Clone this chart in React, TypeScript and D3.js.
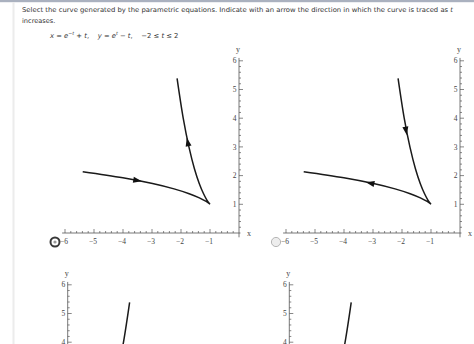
import React from "react";
import * as d3 from "d3";

// Curve points (right-half form, x positive)
const curveXPos = [5.389, 4.005, 2.982, 2.24, 1.718, 1.367, 1.149, 1.034, 1.005, 1, 1.005, 1.029, 1.107, 1.222, 1.368, 1.537, 1.723, 1.924, 2.135];
const curveXNeg = [-5.389, -4.005, -2.982, -2.24, -1.718, -1.367, -1.149, -1.034, -1.005, -1, -1.005, -1.029, -1.107, -1.222, -1.368, -1.537, -1.723, -1.924, -2.135];
const curveY = [2.135, 1.924, 1.723, 1.537, 1.368, 1.222, 1.107, 1.029, 1.005, 1, 1.005, 1.034, 1.149, 1.367, 1.718, 2.24, 2.982, 4.005, 5.389];

// arrow markers: position on curve + direction (+1 along increasing t, -1 reversed)
const arrowsA = [
  { x: -3.5, y: 1.83, dir: 1 },
  { x: -1.77, y: 3.17, dir: 1 },
];
const arrowsB = [
  { x: -3.1, y: 1.74, dir: -1 },
  { x: -1.86, y: 3.56, dir: -1 },
];

const xTickLabelsNeg = ["−6", "−5", "−4", "−3", "−2", "−1"];
const xTickValuesNeg = [-6, -5, -4, -3, -2, -1];
const yTickLabels = ["1", "2", "3", "4", "5", "6"];
const yTickValues = [1, 2, 3, 4, 5, 6];

const UX = 29;
const UY = 28.7;

type PanelProps = {
  ox: number;
  oy: number;
  side: "neg" | "pos";
  arrows: { x: number; y: number; dir: number }[];
  radio?: "dark" | "light";
  radioX?: number;
};

function Arrow({ px, py, ang }: { px: number; py: number; ang: number }) {
  const L = 8.5;
  const W = 3;
  const pts = [
    [L / 2, 0],
    [-L / 2, -W],
    [-L / 2, W],
  ];
  const c = Math.cos(ang);
  const s = Math.sin(ang);
  const d = pts.map(([a, b]) => `${px + a * c - b * s},${py + a * s + b * c}`).join(" ");
  return <polygon points={d} fill="#111" />;
}

function Panel({ ox, oy, side, arrows, radio, radioX }: PanelProps) {
  const xs = side === "neg" ? curveXNeg : curveXPos;
  const x = side === "neg"
    ? d3.scaleLinear().domain([-6, 0]).range([ox - 6 * UX, ox])
    : d3.scaleLinear().domain([0, 6]).range([ox, ox + 6 * UX]);
  const y = d3.scaleLinear().domain([0, 6]).range([oy, oy - 6 * UY]);
  const pts: [number, number][] = xs.map((v, i) => [x(v), y(curveY[i])]);
  const line = d3.line().curve(d3.curveCatmullRom.alpha(0.5));
  const minor = d3.range(0, 31).map((i) => i * 0.2);
  const tickColor = "#555";
  const fontFam = "'Liberation Serif', 'DejaVu Serif', serif";

  const arrowEls = arrows.map((a, k) => {
    const ax = x(a.x);
    const ay = y(a.y);
    let best = 0;
    let bd = Infinity;
    pts.forEach((p, i) => {
      const dd = (p[0] - ax) ** 2 + (p[1] - ay) ** 2;
      if (dd < bd) {
        bd = dd;
        best = i;
      }
    });
    const i0 = Math.max(0, best - 1);
    const i1 = Math.min(pts.length - 1, best + 1);
    const ang = Math.atan2(pts[i1][1] - pts[i0][1], pts[i1][0] - pts[i0][0]) + (a.dir < 0 ? Math.PI : 0);
    return <Arrow key={k} px={ax} py={ay} ang={ang} />;
  });

  const xAxisVals = side === "neg" ? minor.map((m) => -m) : minor;
  return (
    <g>
      {/* x axis */}
      <line
        x1={side === "neg" ? x(-6.1) : x(-0.1)}
        x2={side === "neg" ? x(0.05) : x(6.1)}
        y1={oy}
        y2={oy}
        stroke={tickColor}
        strokeWidth={0.8}
      />
      {xAxisVals.filter((v) => Math.abs(v) > 1e-6).map((v, i) => {
        const major = Math.abs(v - Math.round(v)) < 1e-6;
        return (
          <line key={"xt" + i} x1={x(v)} x2={x(v)} y1={oy} y2={oy - (major ? 4 : 2)} stroke={tickColor} strokeWidth={0.7} />
        );
      })}
      {side === "neg" &&
        xTickValuesNeg.map((v, i) => (
          <text key={"xl" + i} x={x(v) - 1} y={oy + 11} fontSize={7.5} fill="#444" fontFamily={fontFam} textAnchor="middle">
            {xTickLabelsNeg[i]}
          </text>
        ))}
      {side === "neg" && (
        <text x={ox + 8} y={oy + 3} fontSize={8} fill="#444" fontFamily={fontFam}>
          x
        </text>
      )}
      {/* y axis */}
      <line x1={ox} x2={ox} y1={y(-0.15)} y2={y(6.1)} stroke={tickColor} strokeWidth={0.8} />
      {minor.filter((v) => v > 1e-6).map((v, i) => {
        const major = Math.abs(v - Math.round(v)) < 1e-6;
        return (
          <line key={"yt" + i} x1={ox} x2={ox + (major ? 4 : 2)} y1={y(v)} y2={y(v)} stroke={tickColor} strokeWidth={0.7} />
        );
      })}
      {yTickValues.map((v, i) => (
        <text key={"yl" + i} x={ox - 2.5} y={y(v) + 2.6} fontSize={7.5} fill="#444" fontFamily={fontFam} textAnchor="end">
          {yTickLabels[i]}
        </text>
      ))}
      <text x={ox - 1} y={y(6) - 9} fontSize={8} fill="#444" fontFamily={fontFam} textAnchor="middle">
        y
      </text>
      <path d={line(pts) || ""} fill="none" stroke="#1a1a1a" strokeWidth={1.5} />
      {arrowEls}
      {radio === "dark" && (
        <g>
          <circle cx={radioX} cy={oy + 9} r={4.5} fill="#fff" stroke="#3a3a3a" strokeWidth={2} />
          <circle cx={radioX} cy={oy + 9} r={1.6} fill="#9a9a9a" />
        </g>
      )}
      {radio === "light" && (
        <circle cx={radioX} cy={oy + 9} r={4.6} fill="#ededed" stroke="#a5a5a5" strokeWidth={0.8} />
      )}
    </g>
  );
}

export default function App() {
  const sans = "'DejaVu Sans', Verdana, sans-serif";
  return (
    <svg
      width={474}
      height={344}
      style={{ position: "fixed", left: 0, top: 0, background: "#fff" }}
    >
      <rect x={0} y={0} width={474} height={344} fill="#fff" />
      <rect x={0} y={0} width={474} height={2.2} fill="#aab1bf" />
      <rect x={12.5} y={2} width={2} height={342} fill="#ececec" />
      <text x={22} y={12} fontSize={6.6} fill="#333" fontFamily={sans} textLength={431} lengthAdjust="spacingAndGlyphs">
        Select the curve generated by the parametric equations. Indicate with an arrow the direction in which the curve is traced as <tspan fontStyle="italic">t</tspan>
      </text>
      <text x={22} y={23} fontSize={6.6} fill="#333" fontFamily={sans}>
        increases.
      </text>
      <text x={50} y={37.5} fontSize={6.8} fill="#333" fontFamily={sans} style={{ whiteSpace: "pre" }}>
        <tspan fontStyle="italic">x</tspan>
        {" = "}
        <tspan fontStyle="italic">e</tspan>
        <tspan dy={-3} fontSize={4.8}>
          −<tspan fontStyle="italic">t</tspan>
        </tspan>
        <tspan dy={3}>{" + "}</tspan>
        <tspan fontStyle="italic">t</tspan>
        {",    "}
        <tspan fontStyle="italic">y</tspan>
        {" = "}
        <tspan fontStyle="italic">e</tspan>
        <tspan dy={-3} fontSize={4.8} fontStyle="italic">
          t
        </tspan>
        <tspan dy={3}>{" − "}</tspan>
        <tspan fontStyle="italic">t</tspan>
        {",    −2 ≤ "}
        <tspan fontStyle="italic">t</tspan>
        {" ≤ 2"}
      </text>
      <Panel ox={239} oy={233} side="neg" arrows={arrowsA} radio="dark" radioX={55} />
      <Panel ox={460} oy={233} side="neg" arrows={arrowsB} radio="light" radioX={276} />
      <Panel ox={67.7} oy={457} side="pos" arrows={[]} />
      <Panel ox={289.3} oy={457} side="pos" arrows={[]} />
    </svg>
  );
}
